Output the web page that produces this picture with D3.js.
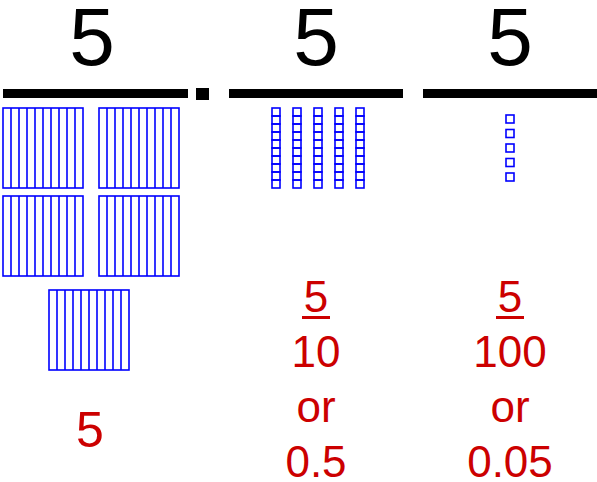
<!DOCTYPE html>
<html><head><meta charset="utf-8">
<script src="https://cdn.jsdelivr.net/npm/d3@7"></script>
<style>body{margin:0;background:#fff}</style></head>
<body><svg id="c" width="597" height="482"></svg>
<script>
const digits = ['5', '5', '5'];
const places = ['ones', 'tenths', 'hundredths'];
const counts = [5, 5, 5];
const labels = [['5'], ['5', '10', 'or', '0.5'], ['5', '100', 'or', '0.05']];

const svg = d3.select('#c');
const blue = '#0000ff', red = '#cc0000', sw = 1.6;
const cx = { ones: 92, tenths: 316, hundredths: 510 };

// heading digits and lines
const lines = [[3, 188], [229, 403], [423, 597]];
places.forEach((p, i) => {
  svg.append('text').attr('x', cx[p]).attr('y', 65).attr('text-anchor', 'middle')
    .attr('font-family', 'Liberation Sans, Arial').attr('font-size', 82).text(digits[i]);
  svg.append('rect').attr('x', lines[i][0]).attr('y', 89).attr('width', lines[i][1] - lines[i][0])
    .attr('height', 9).attr('fill', '#000');
});
svg.append('rect').attr('x', 196).attr('y', 88).attr('width', 13).attr('height', 12).attr('fill', '#000');

// flats (ones)
const flatPos = [[3, 108], [99, 108], [3, 196], [99, 196], [49, 290]].slice(0, counts[0]);
const s = 80 / 10;
flatPos.forEach(([fx, fy]) => {
  const g = svg.append('g');
  g.append('rect').attr('x', fx).attr('y', fy).attr('width', 80).attr('height', 80)
    .attr('fill', 'none').attr('stroke', blue).attr('stroke-width', sw);
  d3.range(1, 10).forEach(k => g.append('line').attr('x1', fx + k * s).attr('x2', fx + k * s)
    .attr('y1', fy).attr('y2', fy + 80).attr('stroke', blue).attr('stroke-width', sw));
});

// rods (tenths)
d3.range(counts[1]).forEach(r => {
  d3.range(10).forEach(k => svg.append('rect').attr('x', 272 + r * 21).attr('y', 108 + k * 8)
    .attr('width', 8).attr('height', 8).attr('fill', 'none').attr('stroke', blue).attr('stroke-width', sw));
});

// units (hundredths)
d3.range(counts[2]).forEach(k => svg.append('rect').attr('x', 506).attr('y', 115 + k * 14.5)
  .attr('width', 8).attr('height', 8).attr('fill', 'none').attr('stroke', blue).attr('stroke-width', sw));

// red labels
const ly = [312, 367, 422, 477];
places.forEach((p, i) => {
  labels[i].forEach((t, j) => {
    const y = labels[i].length === 1 ? 447 : ly[j];
    svg.append('text').attr('x', cx[p] - (i === 0 ? 2 : 0)).attr('y', y).attr('text-anchor', 'middle')
      .attr('font-family', 'Liberation Sans, Arial').attr('font-size', i === 0 ? 50 : 44).attr('fill', red).text(t);
    if (labels[i].length > 1 && j === 0)
      svg.append('rect').attr('x', cx[p] - 14).attr('y', y + 4).attr('width', 28).attr('height', 3).attr('fill', red);
  });
});
</script></body></html>
